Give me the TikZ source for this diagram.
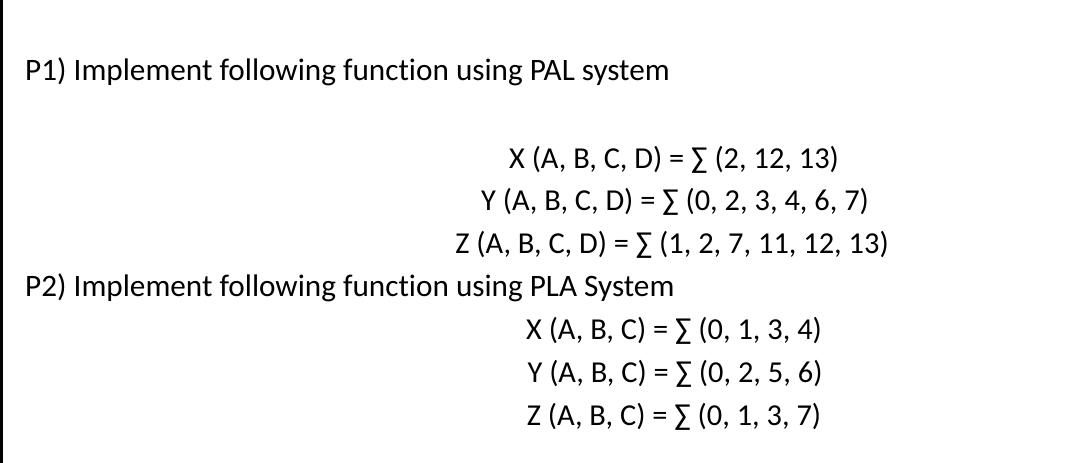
\documentclass[tikz,border=0pt]{standalone}
\usepackage{fontspec}
\setmainfont[Ligatures=NoCommon]{Carlito}
\begin{document}
\begin{tikzpicture}[x=1pt,y=-1pt,
  txt/.style={inner sep=0pt},
  head/.style={txt,anchor=base west,font=\fontsize{31.2}{36}\selectfont},
  eq/.style={txt,anchor=base,font=\fontsize{30.4}{36}\selectfont}]
\useasboundingbox (0,0) rectangle (1080,463);
\fill[white] (0,0) rectangle (1080,463);
\draw[line width=2.5pt] (1.5,0) -- (1.5,463);
\node[head] (p1) at (25,80) {P1) Implement following function using PAL system};
\node[eq] (x1) at (674,168) {X (A, B, C, D) = ∑ (2, 12, 13)};
\node[eq] (y1) at (675,210) {Y (A, B, C, D) = ∑ (0, 2, 3, 4, 6, 7)};
\node[eq] (z1) at (672,253) {Z (A, B, C, D) = ∑ (1, 2, 7, 11, 12, 13)};
\node[head] (p2) at (25,296) {P2) Implement following function using PLA System};
\node[eq] (x2) at (674,339) {X (A, B, C) = ∑ (0, 1, 3, 4)};
\node[eq] (y2) at (675,382) {Y (A, B, C) = ∑ (0, 2, 5, 6)};
\node[eq] (z2) at (674,425) {Z (A, B, C) = ∑ (0, 1, 3, 7)};
\end{tikzpicture}
\end{document}
